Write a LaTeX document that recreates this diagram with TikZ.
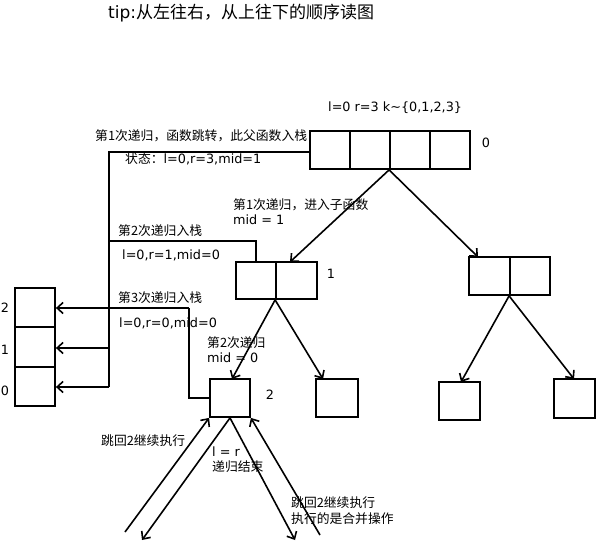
\documentclass[tikz,border=0pt]{standalone}
\usepackage{fontspec}
\setmainfont{DejaVu Sans}
\newfontfamily\cjk{Noto Sans CJK SC}
\usetikzlibrary{arrows.meta}
\begin{document}
\begin{tikzpicture}[x=1pt,y=-1pt,
  cell/.style={draw,line width=1.8pt,minimum width=40pt,minimum height=38pt,inner sep=0pt},
  txt/.style={anchor=west,inner sep=0pt,font=\fontsize{12.8}{14}\selectfont},
  lbl/.style={inner sep=0pt,font=\fontsize{12.8}{14}\selectfont},
  conn/.style={line width=1.6pt},
  arr/.style={line width=1.6pt,-{Straight Barb[length=6pt,width=11pt,line width=1.6pt]}}]
\useasboundingbox[fill=white] (0,0) rectangle (597,545);
% title
\node[anchor=west,inner sep=0pt,font=\fontsize{17}{19}\selectfont] (title) at (108,13) {tip:{\cjk 从左往右，从上往下的顺序读图}};
% top array
\node[cell] (t1) at (330,150) {};
\node[cell] (t2) at (370,150) {};
\node[cell] (t3) at (410,150) {};
\node[cell] (t4) at (450,150) {};
\node[lbl] (l0) at (486,143) {0};
\node[txt] (range) at (328,108) {l=0 r=3 k\textasciitilde\{0,1,2,3\}};
% level 1 left
\node[cell,minimum height=37pt] (l1a) at (256,280.5) {};
\node[cell,minimum width=41pt,minimum height=37pt] (l1b) at (296.5,280.5) {};
\node[lbl] (lab1) at (331,274) {1};
% level 1 right
\node[cell,minimum width=41pt] (r1a) at (489.5,276) {};
\node[cell] (r1b) at (530,276) {};
% level 2
\node[cell] (b2) at (230,398) {};
\node[lbl] (lab2) at (270,395) {2};
\node[cell,minimum width=42pt] (b3) at (337,398) {};
\node[cell,minimum width=41pt] (r2a) at (459.5,401) {};
\node[cell,minimum width=41pt,minimum height=39pt] (r2b) at (574.5,398.5) {};
% stack
\node[cell,minimum height=39pt] (s2) at (35,307.5) {};
\node[cell,minimum height=40pt] (s1) at (35,347) {};
\node[cell,minimum height=39pt] (s0) at (35,386.5) {};
\node[lbl] (sl2) at (5,308) {2};
\node[lbl] (sl1) at (5,350) {1};
\node[lbl] (sl0) at (5,391) {0};
% tree arrows
\coordinate (p1) at (290,262);
\coordinate (p2) at (478,257);
\draw[arr] (t3.south west) -- (p1);
\draw[arr] (t3.south west) -- (p2);
\coordinate (p3) at (232,379);
\coordinate (p4) at (323,379);
\draw[arr] (l1b.south west) -- (p3);
\draw[arr] (l1b.south west) -- (p4);
\coordinate (p5) at (461,382);
\coordinate (p6) at (574,379);
\draw[arr] (r1b.south west) -- (p5);
\draw[arr] (r1b.south west) -- (p6);
% stack connectors
\coordinate (v0) at (109,152);
\coordinate (v1) at (109,387);
\draw[conn] (t1.west |- v0) -- (v0) -- (v1);
\draw[arr] (v1) -- (s0.east |- v1);
\coordinate (v2) at (109,348);
\draw[arr] (v2) -- (s1.east |- v2);
\coordinate (h2) at (256,241);
\draw[conn] (l1a.north) -- (h2) -- (109,241);
\coordinate (h3a) at (189,398);
\coordinate (h3b) at (189,308);
\draw[conn] (b2.west) -- (h3a) -- (h3b);
\draw[arr] (h3b) -- (s2.east |- h3b);
% bottom arrows
\coordinate (q1) at (125,532);
\coordinate (q2) at (142,540);
\coordinate (q3) at (295,540);
\coordinate (q4) at (320,535);
\draw[arr] (q1) -- (b2.south west);
\draw[arr] (b2.south) -- (q2);
\draw[arr] (b2.south) -- (q3);
\draw[arr] (q4) -- (b2.south east);
% texts
\node[txt] (n1) at (95,136) {\cjk 第1次递归，函数跳转，此父函数入栈};
\node[txt] (n2) at (125,159) {{\cjk 状态：}l=0,r=3,mid=1};
\node[txt] (n3) at (233,205) {\cjk 第1次递归，进入子函数};
\node[txt] (n4) at (233,220) {mid = 1};
\node[txt] (n5) at (118,231) {\cjk 第2次递归入栈};
\node[txt] (n6) at (122,255) {l=0,r=1,mid=0};
\node[txt] (n7) at (118,298) {\cjk 第3次递归入栈};
\node[txt] (n8) at (119,323) {l=0,r=0,mid=0};
\node[txt] (n9) at (207,343) {\cjk 第2次递归};
\node[txt] (n10) at (207,358) {mid = 0};
\node[txt] (n11) at (101,441) {\cjk 跳回2继续执行};
\node[txt] (n12) at (212,452) {l = r};
\node[txt] (n13) at (212,467) {\cjk 递归结束};
\node[txt] (n14) at (291,503) {\cjk 跳回2继续执行};
\node[txt] (n15) at (291,519) {\cjk 执行的是合并操作};
\end{tikzpicture}
\end{document}
